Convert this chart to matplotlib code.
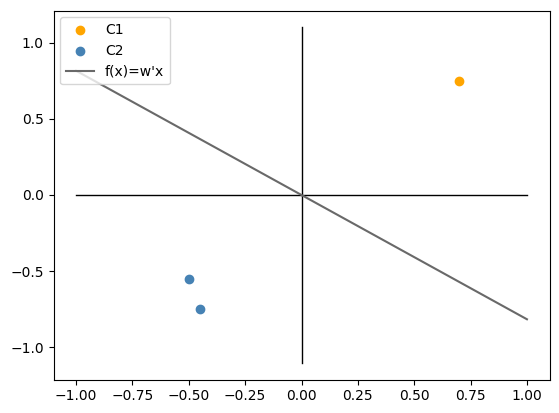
import numpy as np
import matplotlib
matplotlib.use('Agg')
import matplotlib.pyplot as plt

# data
c1_x = [0.70]
c1_y = [0.75]
c2_x = [-0.50, -0.45]
c2_y = [-0.55, -0.75]
line_x = [-1.0, 1.0]
line_y = [0.815, -0.815]
hline_x = [-1.0, 1.0]
hline_y = [0.0, 0.0]
vline_x = [0.0, 0.0]
vline_y = [-1.1, 1.1]

fig = plt.figure(figsize=(5.59, 4.13), dpi=100)
ax = fig.add_axes([53.5/559, 1-379.5/413, 496/559, 369/413])

ax.plot(hline_x, hline_y, color='black', lw=1)
ax.plot(vline_x, vline_y, color='black', lw=1)
ax.scatter(c1_x, c1_y, color='orange', label='C1')
ax.scatter(c2_x, c2_y, color='steelblue', label='C2')
ax.plot(line_x, line_y, color='dimgray', lw=1.5, label="f(x)=w'x")

ax.legend(loc='upper left')
fig.savefig('out.png', dpi=100)
